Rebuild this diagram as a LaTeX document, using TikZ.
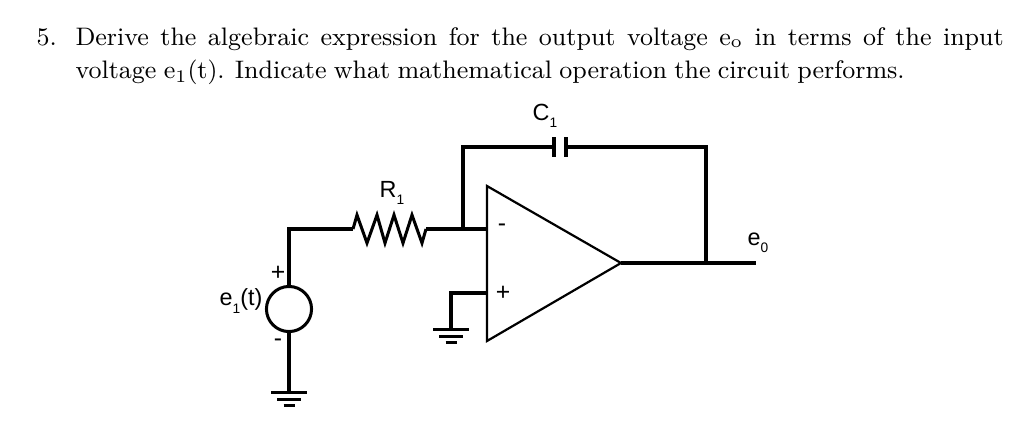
\documentclass[tikz,border=0pt]{standalone}
\usepackage{fontspec}
\newfontfamily\labelfont{Liberation Sans}
\tikzstyle{wire} = [line width=1.1pt, line join=miter]
\tikzstyle{amp} = [line width=0.8pt, line join=miter]
\tikzstyle{source} = [circle, draw=black, line width=1.1pt, minimum size=16.4pt, inner sep=0pt]
\tikzstyle{question} = [font=\fontsize{9.2}{12.3}\selectfont, anchor=base west, inner sep=0pt]
\tikzstyle{comp} = [font=\labelfont\fontsize{8.5}{10}\selectfont, inner sep=0pt]
\tikzstyle{sign} = [font=\labelfont\fontsize{9}{10}\selectfont, inner sep=0pt]
\newcommand{\lowsub}[1]{\raisebox{-0.6ex}{\fontsize{5}{6}\selectfont #1}}
\newcommand{\tightwords}{\setlength{\spaceskip}{2.65pt plus 4pt minus 0.3pt}}
\newcommand{\groundbars}[1]{
\draw [wire] ([xshift=-6.4pt]#1) -- ([xshift=6.4pt]#1);
\draw [wire] ([xshift=-4.2pt, yshift=-2.6pt]#1) -- ([xshift=4.2pt, yshift=-2.6pt]#1);
\draw [wire] ([xshift=-2pt, yshift=-5pt]#1) -- ([xshift=2pt, yshift=-5pt]#1);
}
\begin{document}
\begin{tikzpicture}[x=0.3636pt, y=-0.3636pt]
\useasboundingbox (0,0) rectangle (1024,435);

\node (num) [question] at (36,45) {5.};
\node (text) [question, text width=337.5pt, align=justify] at (75,45) {\tightwords Derive the algebraic expression for the output voltage $\mathrm{e_o}$ in terms of the input\linebreak voltage $\mathrm{e_1(t)}$. Indicate what mathematical operation the circuit performs.};

\node (src) [source] at (289,309) {};
\coordinate (corner) at (289,229);
\coordinate (rin) at (353,229);
\coordinate (rout) at (426,229);
\coordinate (inv) at (487,229);
\coordinate (noninv) at (487,293);
\coordinate (join) at (463,229);
\coordinate (topleft) at (463,147);
\coordinate (capa) at (554,147);
\coordinate (capb) at (566,147);
\coordinate (topright) at (706,147);
\coordinate (ampa) at (487,186);
\coordinate (ampb) at (487,341);
\coordinate (tip) at (621,263);
\coordinate (tap) at (706,263);
\coordinate (out) at (756,263);
\coordinate (gndsrc) at (289,392);
\coordinate (gndamp) at (451,329);
\coordinate (bend) at (451,293);

\draw [wire] (src) -- (corner) -- (rin);
\draw [wire] (rin) -- (357,215) -- (367,243) -- (377,215) -- (385,243) -- (394,215) -- (403,243) -- (412,215) -- (422,243) -- (rout);
\draw [wire] (rout) -- (inv);
\draw [wire] (join) -- (topleft) -- (capa);
\draw [wire] (capb) -- (topright) -- (tap);
\draw [wire] (554,137) -- (554,157);
\draw [wire] (566,137) -- (566,157);
\draw [amp] (ampa) -- (ampb) -- (tip) -- cycle;
\draw [wire] (tip) -- (out);
\draw [wire] (noninv) -- (bend) -- (gndamp);
\draw [wire] (src) -- (gndsrc);
\groundbars{gndsrc}
\groundbars{gndamp}

\node (rlabel) [comp] at (392,193) {R\lowsub{1}};
\node (clabel) [comp] at (545,116) {C\lowsub{1}};
\node (olabel) [comp] at (758,243) {e\lowsub{0}};
\node (ilabel) [comp] at (241,301) {e\lowsub{1}(t)};
\node (splus) [sign] at (278,273) {+};
\node (sminus) [sign] at (278,343) {-};
\node (aminus) [sign] at (502,228) {-};
\node (aplus) [sign] at (503,293) {+};

\end{tikzpicture}
\end{document}
